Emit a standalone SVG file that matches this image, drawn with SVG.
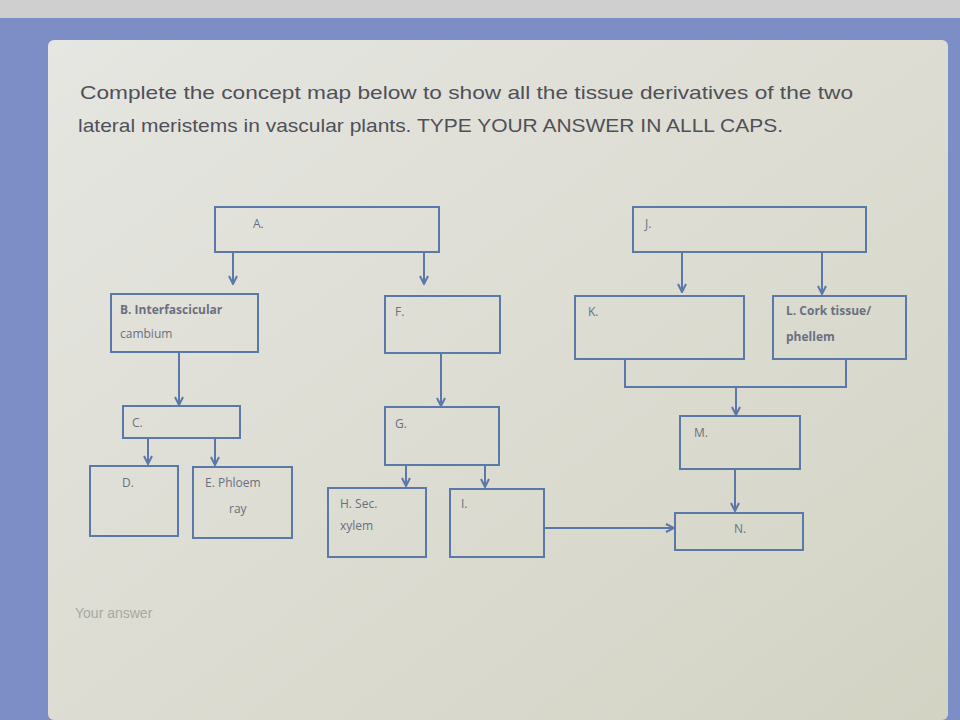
<svg xmlns="http://www.w3.org/2000/svg" width="960" height="720" viewBox="0 0 960 720">
<defs>
<linearGradient id="bg" x1="0" y1="0" x2="1" y2="1"><stop offset="0" stop-color="#e6e6e2"/><stop offset="1" stop-color="#d3d3c4"/></linearGradient>
<marker id="ar" viewBox="0 0 10 10" refX="9" refY="5" markerWidth="5" markerHeight="5" orient="auto"><path d="M1,1 L9,5 L1,9" fill="none" stroke="#5a78a8" stroke-width="2"/></marker>
<style>
.b{fill:none;stroke:#5a78a8;stroke-width:2}
.c{fill:none;stroke:#5a78a8;stroke-width:2;marker-end:url(#ar)}
.t{font-family:"Open Sans","Liberation Sans",sans-serif;font-size:12px;fill:#6a7080}
.h{font-family:"Liberation Sans",sans-serif;font-size:19px;fill:#505058}
</style>
</defs>
<rect width="960" height="720" fill="#7d8ec6"/>
<rect x="0" y="0" width="960" height="18" fill="#cfcfcf"/>
<rect x="48" y="40" width="900" height="680" rx="6" fill="url(#bg)"/>
<text class="h" x="80" y="99" textLength="773" lengthAdjust="spacingAndGlyphs">Complete the concept map below to show all the tissue derivatives of the two</text>
<text class="h" x="78" y="132" textLength="705" lengthAdjust="spacingAndGlyphs">lateral meristems in vascular plants. TYPE YOUR ANSWER IN ALLL CAPS.</text>
<g id="connectors">
<path class="c" d="M233,252 V284"/><path class="c" d="M424,252 V284"/>
<path class="c" d="M179,352 V405"/><path class="c" d="M441,353 V406"/>
<path class="c" d="M148,438 V464"/><path class="c" d="M215,438 V465"/>
<path class="c" d="M406,465 V486"/><path class="c" d="M485,465 V487"/>
<path class="c" d="M682,252 V292"/><path class="c" d="M822,252 V294"/>
<path class="b" d="M625,359 V387 H846 V359"/><path class="c" d="M736,387 V415"/>
<path class="c" d="M735,469 V511"/><path class="c" d="M544,528 H674"/>
</g>
<g id="A"><rect class="b" x="215" y="207" width="224" height="45"/><text class="t" x="253" y="228">A.</text></g>
<g id="B"><rect class="b" x="111" y="294" width="147" height="58"/><text class="t" x="120" y="314" font-weight="bold">B. Interfascicular</text><text class="t" x="120" y="338">cambium</text></g>
<g id="F"><rect class="b" x="385" y="296" width="115" height="57"/><text class="t" x="395" y="316">F.</text></g>
<g id="C"><rect class="b" x="123" y="406" width="117" height="32"/><text class="t" x="132" y="427">C.</text></g>
<g id="G"><rect class="b" x="385" y="407" width="114" height="58"/><text class="t" x="395" y="428">G.</text></g>
<g id="D"><rect class="b" x="90" y="466" width="88" height="70"/><text class="t" x="122" y="487">D.</text></g>
<g id="E"><rect class="b" x="193" y="467" width="99" height="71"/><text class="t" x="205" y="487">E. Phloem</text><text class="t" x="229" y="513">ray</text></g>
<g id="H"><rect class="b" x="328" y="488" width="98" height="69"/><text class="t" x="340" y="508">H. Sec.</text><text class="t" x="340" y="530">xylem</text></g>
<g id="I"><rect class="b" x="450" y="489" width="94" height="68"/><text class="t" x="461" y="508">I.</text></g>
<g id="J"><rect class="b" x="633" y="207" width="233" height="45"/><text class="t" x="645" y="228">J.</text></g>
<g id="K"><rect class="b" x="575" y="296" width="169" height="63"/><text class="t" x="588" y="316">K.</text></g>
<g id="L"><rect class="b" x="773" y="296" width="133" height="63"/><text class="t" x="786" y="315" font-weight="bold">L. Cork tissue/</text><text class="t" x="786" y="341" font-weight="bold">phellem</text></g>
<g id="M"><rect class="b" x="680" y="416" width="120" height="53"/><text class="t" x="694" y="437">M.</text></g>
<g id="N"><rect class="b" x="675" y="513" width="128" height="37"/><text class="t" x="734" y="533">N.</text></g>
<text x="75" y="618" font-family="Liberation Sans,sans-serif" font-size="14" fill="#a8a8a0">Your answer</text>
</svg>
